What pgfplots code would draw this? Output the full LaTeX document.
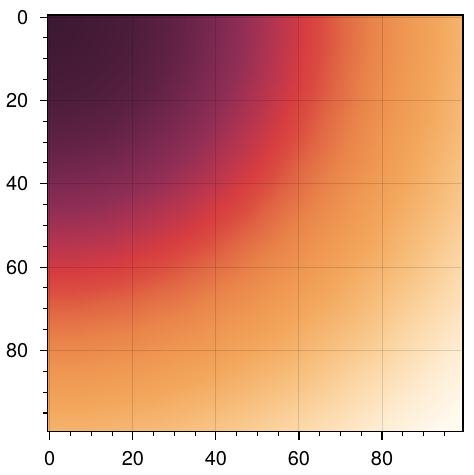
\documentclass[border=0pt]{standalone}
\usepackage{fontspec}
\setmainfont{TeX Gyre Heros}
\usepackage{pgfplots}
\pgfplotsset{compat=1.18}
\usetikzlibrary{calc}
\definecolor{firezero}{RGB}{59,24,50}

% the field is radial (value = distance from the origin), so it is sampled
% on a polar mesh whose rings sit on the colormap stops
\pgfplotstableread{
x y r
0 0 0
0 0 0
0 0 0
0 0 0
0 0 0
0 0 0
0 0 0
0 0 0
0 0 0
0 0 0
0 0 0
0 0 0
11.82 -2.08 12
12 0 12
11.82 2.08 12
11.28 4.10 12
10.39 6 12
9.19 7.71 12
7.71 9.19 12
6 10.39 12
4.10 11.28 12
2.08 11.82 12
0 12 12
-2.08 11.82 12
23.64 -4.17 24
24 0 24
23.64 4.17 24
22.55 8.21 24
20.78 12 24
18.38 15.43 24
15.43 18.38 24
12 20.78 24
8.21 22.55 24
4.17 23.64 24
0 24 24
-4.17 23.64 24
34.47 -6.08 35
35 0 35
34.47 6.08 35
32.89 11.97 35
30.31 17.5 35
26.81 22.50 35
22.50 26.81 35
17.5 30.31 35
11.97 32.89 35
6.08 34.47 35
0 35 35
-6.08 34.47 35
43.33 -7.64 44
44 0 44
43.33 7.64 44
41.35 15.05 44
38.11 22 44
33.71 28.28 44
28.28 33.71 44
22 38.11 44
15.05 41.35 44
7.64 43.33 44
0 44 44
-7.64 43.33 44
49.24 -8.68 50
50 0 50
49.24 8.68 50
46.98 17.10 50
43.30 25 50
38.30 32.14 50
32.14 38.30 50
25 43.30 50
17.10 46.98 50
8.68 49.24 50
0 50 50
-8.68 49.24 50
55.15 -9.72 56
56 0 56
55.15 9.72 56
52.62 19.15 56
48.50 28 56
42.90 36.00 56
36.00 42.90 56
28 48.50 56
19.15 52.62 56
9.72 55.15 56
0 56 56
-9.72 55.15 56
59.09 -10.42 60
60 0 60
59.09 10.42 60
56.38 20.52 60
51.96 30 60
45.96 38.57 60
38.57 45.96 60
30 51.96 60
20.52 56.38 60
10.42 59.09 60
0 60 60
-10.42 59.09 60
63.03 -11.11 64
64 0 64
63.03 11.11 64
60.14 21.89 64
55.43 32 64
49.03 41.14 64
41.14 49.03 64
32 55.43 64
21.89 60.14 64
11.11 63.03 64
0 64 64
-11.11 63.03 64
66.97 -11.81 68
68 0 68
66.97 11.81 68
63.90 23.26 68
58.89 34 68
52.09 43.71 68
43.71 52.09 68
34 58.89 68
23.26 63.90 68
11.81 66.97 68
0 68 68
-11.81 66.97 68
72.88 -12.85 74
74 0 74
72.88 12.85 74
69.54 25.31 74
64.09 37 74
56.69 47.57 74
47.57 56.69 74
37 64.09 74
25.31 69.54 74
12.85 72.88 74
0 74 74
-12.85 72.88 74
80.75 -14.24 82
82 0 82
80.75 14.24 82
77.05 28.05 82
71.01 41 82
62.82 52.71 82
52.71 62.82 82
41 71.01 82
28.05 77.05 82
14.24 80.75 82
0 82 82
-14.24 80.75 82
88.63 -15.63 90
90 0 90
88.63 15.63 90
84.57 30.78 90
77.94 45 90
68.94 57.85 90
57.85 68.94 90
45 77.94 90
30.78 84.57 90
15.63 88.63 90
0 90 90
-15.63 88.63 90
97.50 -17.19 99
99 0 99
97.50 17.19 99
93.03 33.86 99
85.74 49.5 99
75.84 63.64 99
63.64 75.84 99
49.5 85.74 99
33.86 93.03 99
17.19 97.50 99
0 99 99
-17.19 97.50 99
108.33 -19.10 110
110 0 110
108.33 19.10 110
103.37 37.62 110
95.26 55 110
84.26 70.71 110
70.71 84.26 110
55 95.26 110
37.62 103.37 110
19.10 108.33 110
0 110 110
-19.10 108.33 110
120.15 -21.19 122
122 0 122
120.15 21.19 122
114.64 41.73 122
105.66 61 122
93.46 78.42 122
78.42 93.46 122
61 105.66 122
41.73 114.64 122
21.19 120.15 122
0 122 122
-21.19 120.15 122
130.00 -22.92 132
132 0 132
130.00 22.92 132
124.04 45.15 132
114.32 66 132
101.12 84.85 132
84.85 101.12 132
66 114.32 132
45.15 124.04 132
22.92 130.00 132
0 132 132
-22.92 130.00 132
139.84 -24.66 142
142 0 142
139.84 24.66 142
133.44 48.57 142
122.98 71 142
108.78 91.28 142
91.28 108.78 142
71 122.98 142
48.57 133.44 142
24.66 139.84 142
0 142 142
-24.66 139.84 142
}\field

\begin{document}
\begin{tikzpicture}
\begin{axis}[
    name=ax,
    scale only axis,
    width=415.3bp, height=416.7bp,
    xmin=-0.5, xmax=99.5, ymin=-0.5, ymax=99.5,
    y dir=reverse,
    axis on top,
    axis background/.style={fill=firezero},
    colormap={fire}{
        rgb255(0)=(59,24,50) rgb255(12)=(64,25,53) rgb255(24)=(74,28,58)
        rgb255(35)=(94,33,67) rgb255(44)=(122,40,80) rgb255(50)=(146,46,85)
        rgb255(56)=(174,51,81) rgb255(60)=(196,56,74) rgb255(64)=(215,61,64)
        rgb255(68)=(219,76,64) rgb255(74)=(225,103,68) rgb255(82)=(233,131,74)
        rgb255(90)=(239,151,82) rgb255(99)=(243,167,93) rgb255(110)=(247,190,124)
        rgb255(122)=(252,216,168) rgb255(132)=(254,236,210) rgb255(142)=(255,249,238)
    },
    point meta min=0, point meta max=142,
    xtick={0,20,...,80}, ytick={0,20,...,80},
    minor xtick={5,10,15,25,30,35,45,50,55,65,70,75,85,90,95},
    minor ytick={5,10,15,25,30,35,45,50,55,65,70,75,85,90,95},
    xtick pos=bottom, ytick pos=left,
    tick align=outside,
    major tick length=8bp, minor tick length=4.5bp,
    every tick/.style={black, line width=1.1bp},
    grid=major,
    grid style={black, opacity=0.13, line width=1bp},
    axis line style={black, line width=1.2bp},
    tick label style={font=\fontsize{20}{22}\selectfont},
    xticklabel style={yshift=-8bp},
    yticklabel style={xshift=-8bp},
    /pgf/number format/assume math mode=true,
]
\addplot[matrix plot*, shader=interp, mesh/cols=12, point meta=explicit]
    table[x=x, y=y, meta=r] {\field};
\end{axis}
\pgfresetboundingbox
\useasboundingbox ($(ax.south west)+(-47.7bp,-43.3bp)$) rectangle ($(ax.north east)+(11bp,15bp)$);
\end{tikzpicture}
\end{document}
